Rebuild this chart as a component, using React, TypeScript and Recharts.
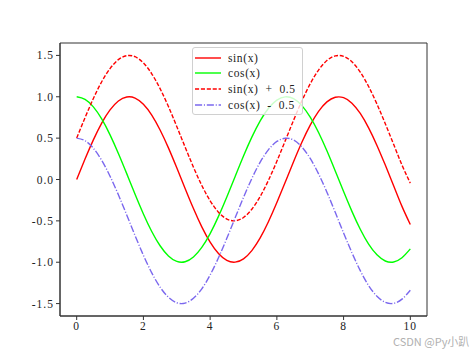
import React from 'react';
import { LineChart, Line, XAxis, YAxis, ReferenceArea } from 'recharts';

const xs = [0, 0.25, 0.5, 0.75, 1, 1.25, 1.5, 1.75, 2, 2.25, 2.5, 2.75, 3, 3.25, 3.5, 3.75, 4, 4.25, 4.5, 4.75, 5, 5.25, 5.5, 5.75, 6, 6.25, 6.5, 6.75, 7, 7.25, 7.5, 7.75, 8, 8.25, 8.5, 8.75, 9, 9.25, 9.5, 9.75, 10];
const sinVals = [0, 0.247, 0.479, 0.682, 0.841, 0.949, 0.997, 0.984, 0.909, 0.778, 0.598, 0.382, 0.141, -0.108, -0.351, -0.572, -0.757, -0.895, -0.978, -0.999, -0.959, -0.859, -0.706, -0.508, -0.279, -0.033, 0.215, 0.45, 0.657, 0.823, 0.938, 0.994, 0.989, 0.923, 0.798, 0.624, 0.412, 0.174, -0.075, -0.325, -0.544];
const cosVals = [1, 0.969, 0.878, 0.732, 0.54, 0.315, 0.071, -0.178, -0.416, -0.628, -0.801, -0.924, -0.99, -0.994, -0.936, -0.821, -0.654, -0.446, -0.211, 0.037, 0.284, 0.512, 0.709, 0.861, 0.96, 0.999, 0.977, 0.893, 0.754, 0.568, 0.347, 0.103, -0.146, -0.385, -0.602, -0.782, -0.911, -0.985, -0.997, -0.946, -0.839];
const sinPlusVals = [0.5, 0.747, 0.979, 1.182, 1.341, 1.449, 1.497, 1.484, 1.409, 1.278, 1.098, 0.882, 0.641, 0.392, 0.149, -0.072, -0.257, -0.395, -0.478, -0.499, -0.459, -0.359, -0.206, -0.008, 0.221, 0.467, 0.715, 0.95, 1.157, 1.323, 1.438, 1.494, 1.489, 1.423, 1.298, 1.124, 0.912, 0.674, 0.425, 0.175, -0.044];
const cosMinusVals = [0.5, 0.469, 0.378, 0.232, 0.04, -0.185, -0.429, -0.678, -0.916, -1.128, -1.301, -1.424, -1.49, -1.494, -1.436, -1.321, -1.154, -0.946, -0.711, -0.463, -0.216, 0.012, 0.209, 0.361, 0.46, 0.499, 0.477, 0.393, 0.254, 0.068, -0.153, -0.397, -0.646, -0.885, -1.102, -1.282, -1.411, -1.485, -1.497, -1.446, -1.339];

const xTicks = [0, 2, 4, 6, 8, 10];
const yTicks = [-1.5, -1.0, -0.5, 0.0, 0.5, 1.0, 1.5];
const seriesNames = ['sin(x)', 'cos(x)', 'sin(x) + 0.5', 'cos(x) - 0.5'];

const data = xs.map((x, i) => ({
  x,
  s: sinVals[i],
  c: cosVals[i],
  sp: sinPlusVals[i],
  cm: cosMinusVals[i],
}));

const BLUE = '#7b68ee';
const legendItems = [
  { name: seriesNames[0], color: '#ff0000', dash: undefined as string | undefined },
  { name: seriesNames[1], color: '#00ff00', dash: undefined },
  { name: seriesNames[2], color: '#ff0000', dash: '4.1 1.8' },
  { name: seriesNames[3], color: BLUE, dash: '7.1 1.8 1.1 1.8' },
];

const FONT = '"Liberation Serif", "DejaVu Serif", serif';
const tickStyle = { fontFamily: FONT, fontSize: 11.5, fill: '#222', letterSpacing: 1 };

const CustomLegend = () => (
  <div
    style={{
      position: 'absolute',
      left: 192,
      top: 47,
      background: 'rgba(255,255,255,0.8)',
      border: '1px solid #d0d0d0',
      borderRadius: 3,
      padding: '2px 6px 2px 2px',
      fontFamily: FONT,
      fontSize: 11.5,
      letterSpacing: 0.6,
      color: '#222',
    }}
  >
    {legendItems.map((it) => (
      <div key={it.name} style={{ display: 'flex', alignItems: 'center', height: 15.6 }}>
        <svg width={26} height={6} style={{ marginRight: 7 }}>
          <line x1={0} y1={3} x2={26} y2={3} stroke={it.color} strokeWidth={1.4} strokeDasharray={it.dash} />
        </svg>
        <span style={{ whiteSpace: 'pre' }}>{it.name.replace(' + ', '  +  ').replace(' - ', '  -  ')}</span>
      </div>
    ))}
  </div>
);

export default function App() {
  return (
    <div style={{ position: 'absolute', left: 0, top: 0, width: 474, height: 355, background: '#fff' }}>
      <LineChart width={474} height={355} data={data} margin={{ top: 43, right: 47, bottom: 0, left: 0 }}>
        <XAxis
          dataKey="x"
          type="number"
          domain={[-0.5, 10.5]}
          ticks={xTicks}
          height={39}
          tick={tickStyle}
          tickLine={{ stroke: '#333' }}
          tickSize={4}
          axisLine={{ stroke: '#333' }}
          allowDataOverflow
        />
        <YAxis
          type="number"
          domain={[-1.65, 1.65]}
          ticks={yTicks}
          width={60}
          tick={tickStyle}
          tickLine={{ stroke: '#333' }}
          tickSize={4}
          tickFormatter={(v: number) => v.toFixed(1)}
          axisLine={{ stroke: '#333' }}
          allowDataOverflow
        />
        <ReferenceArea x1={-0.5} x2={10.5} y1={-1.65} y2={1.65} fill="none" stroke="#333" strokeWidth={1} ifOverflow="visible" />
        <Line dataKey="s" name={seriesNames[0]} stroke="#ff0000" strokeWidth={1.4} dot={false} isAnimationActive={false} type="natural" />
        <Line dataKey="c" name={seriesNames[1]} stroke="#00ff00" strokeWidth={1.4} dot={false} isAnimationActive={false} type="natural" />
        <Line dataKey="sp" name={seriesNames[2]} stroke="#ff0000" strokeWidth={1.4} strokeDasharray="4.1 1.8" dot={false} isAnimationActive={false} type="natural" />
        <Line dataKey="cm" name={seriesNames[3]} stroke={BLUE} strokeWidth={1.4} strokeDasharray="7.1 1.8 1.1 1.8" dot={false} isAnimationActive={false} type="natural" />
      </LineChart>
      <CustomLegend />
      <div
        style={{
          position: 'absolute',
          left: 393,
          top: 333,
          fontFamily: '"Noto Sans CJK SC", "Noto Sans", sans-serif',
          fontSize: 11,
          color: '#b0b0b0',
          whiteSpace: 'nowrap',
        }}
      >
        CSDN @Py小趴
      </div>
    </div>
  );
}
